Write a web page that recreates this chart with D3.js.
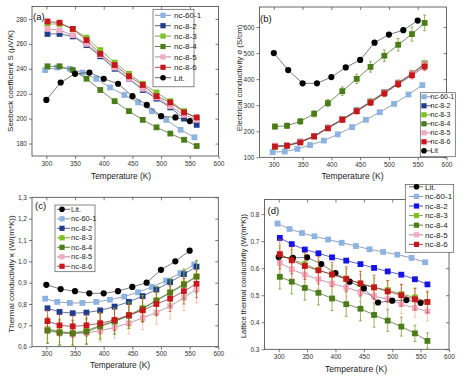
<!DOCTYPE html>
<html>
<head>
<meta charset="utf-8">
<script src="https://cdn.jsdelivr.net/npm/d3@7"></script>
<style>
body { margin: 0; background: #fff; }
svg { font-family: "Liberation Sans", Arial, sans-serif; }
.frame { fill: none; stroke: #444; stroke-width: 0.8; }
.tick line { stroke: #444; stroke-width: 0.7; }
.tick text { fill: #333; font-size: 6.5px; }
</style>
</head>
<body>
<svg width="474" height="381"></svg>
<script>
"use strict";

// temperatures (K)
var tempLit = [300, 325, 350, 375, 400, 425, 450, 475, 500, 525, 550];
var temp601 = [298, 319, 341, 363, 387, 411, 436, 460, 484, 509, 534, 558];
var temp8 = [302, 323, 346, 370, 394, 419, 444, 468, 492, 516, 540, 562];

var seriesNames = ["nc-60-1", "nc-8-2", "nc-8-3", "nc-8-4", "nc-8-5", "nc-8-6", "Lit."];
var seriesColors = ["#8db3e2", "#1f3d8c", "#7dc21e", "#4b7d16", "#f5aac4", "#c8161d", "#000000"];

var xTicks = [300, 350, 400, 450, 500, 550, 600];

// (a) Seebeck coefficient, uV/K
var seebeckVals = [
  [239, 241, 240, 237, 232, 225, 219, 213, 206, 199, 191, 185],
  [268, 268, 266, 259, 250, 240, 232, 223, 216, 209, 200, 195],
  [276, 276, 272, 265, 255, 245, 236, 228, 221, 214, 206, 200],
  [242, 242, 239, 232, 223, 214, 206, 199, 193, 188, 183, 178],
  [272, 271, 267, 260, 251, 241, 232, 224, 217, 210, 203, 199],
  [278, 277, 272, 263, 252, 243, 234, 227, 218, 213, 205, 201],
  [215, 229, 236, 237, 232, 228, 218, 211, 202, 201, 198]
];
var seebeckTicks = [180, 200, 220, 240, 260, 280];

// (b) electrical conductivity, S/cm
var sigmaVals = [
  [120, 122, 132, 147, 164, 188, 216, 244, 273, 305, 341, 377],
  [143, 146, 160, 182, 214, 247, 280, 314, 350, 386, 422, 460],
  [140, 145, 158, 180, 212, 245, 278, 313, 348, 384, 420, 458],
  [218, 221, 238, 267, 308, 354, 401, 447, 490, 532, 573, 616],
  [145, 146, 160, 180, 213, 245, 277, 311, 347, 383, 420, 455],
  [141, 144, 157, 180, 211, 244, 277, 310, 345, 381, 415, 448],
  [500, 435, 384, 384, 408, 445, 474, 540, 571, 588, 625]
];
var sigmaErr = [
  null,
  null,
  [6, 6, 6, 7, 8, 9, 10, 11, 12, 13, 14, 15],
  [10, 10, 11, 12, 14, 16, 18, 20, 22, 24, 27, 30],
  [6, 6, 6, 7, 8, 9, 10, 11, 12, 13, 14, 15],
  [5, 5, 6, 7, 8, 9, 10, 11, 12, 13, 14, 15],
  null
];
var sigmaTicks = [100, 200, 300, 400, 500, 600];

// (c) thermal conductivity, W/(m*K)
var kappaVals = [
  [0.825, 0.81, 0.805, 0.805, 0.81, 0.82, 0.835, 0.855, 0.88, 0.91, 0.945, 0.985],
  [0.78, 0.763, 0.757, 0.76, 0.77, 0.788, 0.81, 0.837, 0.868, 0.903, 0.94, 0.975],
  [0.68, 0.67, 0.665, 0.675, 0.70, 0.72, 0.748, 0.78, 0.818, 0.855, 0.895, 0.93],
  [0.675, 0.665, 0.662, 0.67, 0.695, 0.718, 0.745, 0.778, 0.815, 0.853, 0.89, 0.928],
  [0.685, 0.67, 0.66, 0.665, 0.675, 0.69, 0.71, 0.735, 0.76, 0.79, 0.83, 0.87],
  [0.72, 0.70, 0.695, 0.70, 0.71, 0.725, 0.748, 0.77, 0.80, 0.825, 0.86, 0.895],
  [0.89, 0.87, 0.86, 0.85, 0.85, 0.86, 0.88, 0.90, 0.96, 1.00, 1.05]
];
var kappaErr = [
  null,
  null,
  [0.06, 0.06, 0.06, 0.06, 0.06, 0.06, 0.06, 0.06, 0.065, 0.065, 0.07, 0.075],
  [0.06, 0.06, 0.06, 0.06, 0.06, 0.06, 0.06, 0.06, 0.065, 0.065, 0.07, 0.075],
  [0.05, 0.05, 0.05, 0.05, 0.05, 0.05, 0.05, 0.055, 0.055, 0.06, 0.06, 0.065],
  [0.05, 0.05, 0.05, 0.05, 0.05, 0.05, 0.05, 0.055, 0.055, 0.06, 0.06, 0.065],
  null
];
var kappaTicks = [0.6, 0.7, 0.8, 0.9, 1.0, 1.1, 1.2, 1.3];
var kappaLabels = ["0,6", "0,7", "0,8", "0,9", "1.0", "1,1", "1,2", "1,3"];

// (d) lattice thermal conductivity, W/(m*K)
var kappaLatVals = [
  [0.765, 0.745, 0.73, 0.718, 0.706, 0.694, 0.682, 0.67, 0.66, 0.65, 0.638, 0.622],
  [0.712, 0.689, 0.669, 0.655, 0.64, 0.628, 0.615, 0.601, 0.588, 0.576, 0.559, 0.54],
  [0.647, 0.633, 0.615, 0.593, 0.576, 0.562, 0.541, 0.529, 0.519, 0.504, 0.492, 0.475],
  [0.568, 0.55, 0.527, 0.509, 0.488, 0.467, 0.45, 0.427, 0.406, 0.384, 0.359, 0.331],
  [0.62, 0.596, 0.576, 0.559, 0.543, 0.529, 0.512, 0.497, 0.485, 0.467, 0.453, 0.44],
  [0.652, 0.629, 0.608, 0.592, 0.577, 0.56, 0.544, 0.529, 0.514, 0.5, 0.485, 0.475],
  [0.641, 0.638, 0.64, 0.615, 0.582, 0.55, 0.525, 0.473, 0.48, 0.482, 0.472]
];
var kappaLatErr = [
  null,
  null,
  [0.035, 0.035, 0.035, 0.035, 0.035, 0.035, 0.035, 0.035, 0.035, 0.035, 0.035, 0.035],
  [0.045, 0.045, 0.045, 0.045, 0.045, 0.045, 0.045, 0.045, 0.04, 0.035, 0.03, 0.03],
  [0.035, 0.035, 0.035, 0.035, 0.035, 0.035, 0.035, 0.035, 0.035, 0.035, 0.035, 0.035],
  [0.055, 0.05, 0.05, 0.05, 0.045, 0.045, 0.045, 0.045, 0.04, 0.04, 0.04, 0.04],
  null
];
var kappaLatTicks = [0.3, 0.4, 0.5, 0.6, 0.7, 0.8];

var svg = d3.select("svg");

function tempsFor(i) {
  if (i == 6) return tempLit;
  return i == 0 ? temp601 : temp8;
}

function drawPanel(p) {
  var g = svg.append("g");

  var x = d3.scaleLinear().domain([275, 600]).range([p.left, p.right]);
  var y = d3.scaleLinear().domain(p.ydom).range([p.bottom, p.top]);

  // axes
  var fmt = p.labels ? function(d, i) { return p.labels[i]; } : p.fmt;
  g.append("g").attr("transform", "translate(0," + p.bottom + ")")
    .call(d3.axisBottom(x).tickValues(xTicks).tickSize(3).tickSizeOuter(0).tickPadding(2))
    .call(function(a) { a.select(".domain").remove(); });
  g.append("g").attr("transform", "translate(0," + p.top + ")")
    .call(d3.axisTop(x).tickValues(xTicks.slice(0, -1)).tickSize(-3).tickSizeOuter(0).tickFormat(""))
    .call(function(a) { a.select(".domain").remove(); });
  g.append("g").attr("transform", "translate(" + p.left + ",0)")
    .call(d3.axisLeft(y).tickValues(p.yticks).tickSize(3).tickSizeOuter(0).tickPadding(2).tickFormat(fmt))
    .call(function(a) { a.select(".domain").remove(); });
  g.append("g").attr("transform", "translate(" + p.right + ",0)")
    .call(d3.axisRight(y).tickValues(p.yticks).tickSize(-3).tickSizeOuter(0).tickFormat(""))
    .call(function(a) { a.select(".domain").remove(); });

  g.append("rect").attr("class", "frame")
    .attr("x", p.left).attr("y", p.top)
    .attr("width", p.right - p.left).attr("height", p.bottom - p.top);

  // series
  p.order.forEach(function(i) {
    var temps = tempsFor(i);
    var pts = p.vals[i].map(function(v, k) {
      return { t: temps[k], v: v, e: p.err && p.err[i] ? p.err[i][k] : 0 };
    });
    var col = (p.colors && p.colors[i]) || seriesColors[i];
    var lineCol = i == 6 ? "#444" : d3.interpolateRgb(col, "#333")(0.45);

    g.append("path").datum(pts)
      .attr("fill", "none").attr("stroke", lineCol).attr("stroke-width", 0.7)
      .attr("d", d3.line().x(function(d) { return x(d.t); }).y(function(d) { return y(d.v); }));

    if (p.err && p.err[i]) {
      var eb = g.append("g").attr("stroke", d3.interpolateRgb(col, "#c8c040")(0.3)).attr("stroke-width", 0.7);
      eb.selectAll("line.v").data(pts).enter().append("line")
        .attr("x1", function(d) { return x(d.t); }).attr("x2", function(d) { return x(d.t); })
        .attr("y1", function(d) { return y(d.v - d.e); }).attr("y2", function(d) { return y(d.v + d.e); });
      [-1, 1].forEach(function(s) {
        eb.selectAll(null).data(pts).enter().append("line")
          .attr("x1", function(d) { return x(d.t) - 1.5; }).attr("x2", function(d) { return x(d.t) + 1.5; })
          .attr("y1", function(d) { return y(d.v + s * d.e); }).attr("y2", function(d) { return y(d.v + s * d.e); });
      });
    }

    if (i == 6) {
      g.selectAll(null).data(pts).enter().append("circle")
        .attr("cx", function(d) { return x(d.t); }).attr("cy", function(d) { return y(d.v); })
        .attr("r", 3.1).attr("fill", col);
    } else {
      g.selectAll(null).data(pts).enter().append("rect")
        .attr("x", function(d) { return x(d.t) - 2.9; }).attr("y", function(d) { return y(d.v) - 2.9; })
        .attr("width", 5.8).attr("height", 5.8).attr("fill", col);
    }
  });

  // titles
  g.append("text").text("Temperature (K)")
    .attr("x", p.xtitle[0]).attr("y", p.xtitle[1])
    .attr("text-anchor", "middle").attr("font-size", p.xtitle[2]).attr("fill", "#222");
  g.append("text").text(p.ytitle)
    .attr("transform", "translate(" + p.ytpos[0] + "," + p.ytpos[1] + ") rotate(-90)")
    .attr("text-anchor", "middle").attr("font-size", p.ytpos[2]).attr("fill", "#222");
  g.append("text").text(p.tag)
    .attr("x", p.tagpos[0]).attr("y", p.tagpos[1])
    .attr("font-size", 9.5).attr("fill", "#111");

  drawLegend(p);
}

function drawLegend(p) {
  var L = p.legend;
  var lg = svg.append("g");
  lg.append("rect").attr("x", L.x).attr("y", L.y).attr("width", L.w).attr("height", L.h)
    .attr("fill", "#fff").attr("stroke", "#555").attr("stroke-width", 0.7);
  L.order.forEach(function(i, k) {
    var cy = L.y0 + k * L.step;
    var col = (p.colors && p.colors[i]) || seriesColors[i];
    var lineCol = i == 6 ? "#444" : d3.interpolateRgb(col, "#333")(0.45);
    lg.append("line").attr("x1", L.lx0).attr("x2", L.lx1).attr("y1", cy).attr("y2", cy)
      .attr("stroke", lineCol).attr("stroke-width", 0.8);
    if (i == 6) {
      lg.append("circle").attr("cx", L.mx).attr("cy", cy).attr("r", 2.8).attr("fill", col);
    } else {
      lg.append("rect").attr("x", L.mx - 2.6).attr("y", cy - 2.6).attr("width", 5.2).attr("height", 5.2).attr("fill", col);
    }
    lg.append("text").text(i == 6 ? L.litLabel : seriesNames[i])
      .attr("x", L.tx).attr("y", cy).attr("dy", "0.35em")
      .attr("font-size", L.fs).attr("fill", "#222");
  });
}

drawPanel({
  tag: "(a)", tagpos: [33, 20],
  left: 32, right: 218.5, top: 6.5, bottom: 156,
  ydom: [170, 290], yticks: seebeckTicks, fmt: d3.format("d"),
  vals: seebeckVals, err: null,
  order: [0, 1, 2, 3, 4, 5, 6],
  xtitle: [121, 178.5, 8.3],
  ytitle: "Seebeck coefficient S (\u03bcV/K)", ytpos: [12.5, 81, 8],
  legend: { x: 153, y: 9.3, w: 41, h: 77.5, y0: 15.3, step: 10.4, lx0: 155, lx1: 171, mx: 163, tx: 174, fs: 8, litLabel: "Lit.",
    order: [0, 1, 2, 3, 4, 5, 6] }
});

drawPanel({
  tag: "(b)", tagpos: [260, 21.5],
  left: 259.4, right: 446.5, top: 7, bottom: 157.3,
  ydom: [100, 677], yticks: sigmaTicks, fmt: d3.format("d"),
  vals: sigmaVals, err: sigmaErr,
  order: [0, 1, 2, 4, 5, 3, 6],
  xtitle: [352.5, 178.5, 8.6],
  ytitle: "Electrical conductivity \u03c3 (S/cm)", ytpos: [242, 78, 7.8],
  legend: { x: 420.3, y: 92.7, w: 35, h: 64, y0: 96.8, step: 9, lx0: 421, lx1: 432, mx: 424, tx: 430.5, fs: 7, litLabel: "Lit",
    order: [0, 1, 2, 3, 4, 5, 6] }
});

drawPanel({
  tag: "(c)", tagpos: [35, 208.5],
  left: 32, right: 218.3, top: 197.3, bottom: 346.7,
  ydom: [0.6, 1.3], yticks: kappaTicks, labels: kappaLabels,
  vals: kappaVals, err: kappaErr,
  order: [6, 0, 1, 4, 2, 3, 5],
  xtitle: [120, 368, 8.3],
  ytitle: "Thermal conductivity \u03ba (W/(m*K))", ytpos: [13.5, 274, 8],
  legend: { x: 55, y: 205, w: 40, h: 66.7, y0: 209.3, step: 9.5, lx0: 57, lx1: 70, mx: 62, tx: 71, fs: 7.5, litLabel: "Lit.",
    order: [6, 0, 1, 2, 3, 4, 5] }
});

drawPanel({
  tag: "(d)", tagpos: [267.5, 213.5],
  left: 264.5, right: 449, top: 199.5, bottom: 349.3,
  ydom: [0.3, 0.854], yticks: kappaLatTicks, fmt: d3.format(".1f"),
  vals: kappaLatVals, err: kappaLatErr,
  colors: [null, "#1414e6", null, null, null, null, null],
  order: [0, 1, 2, 3, 4, 6, 5],
  xtitle: [356, 371.5, 8.6],
  ytitle: "Lattice thermal conductivity (W/(m*K))", ytpos: [246, 276, 7.4],
  legend: { x: 405.3, y: 184.5, w: 48.4, h: 67.8, y0: 186.8, step: 9.6, lx0: 409, lx1: 423, mx: 416.5, tx: 425, fs: 8, litLabel: "Lit.",
    order: [6, 0, 1, 2, 3, 4, 5] }
});
</script>
</body>
</html>
